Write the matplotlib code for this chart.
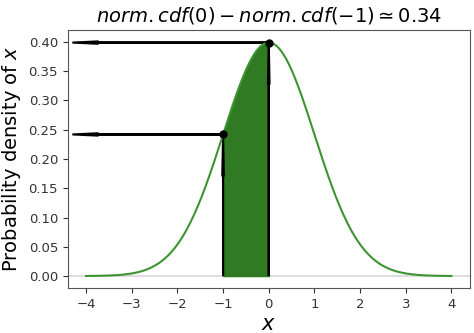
import numpy as np
import matplotlib.pyplot as plt

# standard normal, the curve drawn
mu = 0.0
sigma = 1.0
x_min, x_max = -4, 4
a, b = -1, 0
area_label = 0.34

x = np.linspace(x_min, x_max, 400)


def pdf(v):
    return np.exp(-0.5 * ((v - mu) / sigma) ** 2) / (sigma * np.sqrt(2 * np.pi))


y = pdf(x)

fig = plt.figure(figsize=(4.74, 3.33), dpi=100)
ax = fig.add_axes([0.143, 0.135, 0.848, 0.775])

ax.axhline(0, color="#dddddd", lw=1.5, zorder=0)
ax.plot(x, y, color="#3d9432", lw=1.5)

xf = np.linspace(a, b, 200)
ax.fill_between(xf, pdf(xf), color="#2f7a22")

ax.set_xlim(-4.4, 4.4)
ax.set_ylim(-0.0205, 0.4205)
ax.set_yticks(np.arange(0, 0.41, 0.05))
ax.set_xticks(range(-4, 5))

for p in [a, b]:
    h = pdf(p)
    ax.plot(p, h, "o", color="black", ms=5)
    # vertical arrow at the bound
    ax.arrow(p, 0, 0, h, color="black", width=0, lw=1.5,
             head_width=0.035, head_length=0.07, length_includes_head=True)
    # horizontal arrow towards the y axis
    ax.arrow(p, h, -4.3 - p, 0, color="black", width=0, lw=1.5,
             head_width=0.004, head_length=0.55, length_includes_head=True)

ax.set_title(r"$norm.cdf(0) - norm.cdf(-1) \simeq %.2f$" % area_label, fontsize=14)
ax.set_xlabel(r"$x$", fontsize=15, labelpad=2)
ax.set_ylabel(r"Probability density of $x$", fontsize=14)
ax.tick_params(labelsize=9.5, colors="#333333")
for s in ax.spines.values():
    s.set_color("#555555")

plt.savefig("out.png")
